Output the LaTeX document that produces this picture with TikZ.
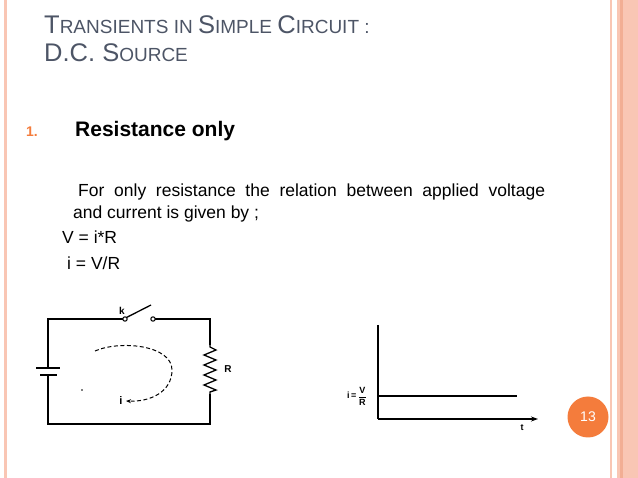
\documentclass[tikz,border=0pt]{standalone}
\usepackage{fontspec}
\setmainfont{Liberation Sans}
\usetikzlibrary{arrows.meta,decorations.pathmorphing}
\definecolor{stripe}{HTML}{F9C6B4}
\definecolor{stripeD}{HTML}{F2AE94}
\definecolor{titlec}{HTML}{4D5566}
\definecolor{orng}{HTML}{F47C3C}
\tikzset{wire/.style={line width=1.3pt},
 txt/.style={anchor=base west,inner sep=0pt,font=\fontsize{17.5}{19}\selectfont}}
\newcommand\bigc{\fontsize{25.5}{27}\selectfont}
\newcommand\smc{\fontsize{19}{20}\selectfont}
\begin{document}
\begin{tikzpicture}[x=1pt,y=-1pt]
\useasboundingbox (0,0) rectangle (638,478);
\fill[stripe] (4,0) rectangle (7,478);
\fill[stripe] (610,0) rectangle (612,478);
\fill[stripe] (617,0) rectangle (638,478);
\fill[stripeD] (620,0) rectangle (623,478);
% title
\node[anchor=base west,inner sep=0pt,text=titlec] (t1) at (44,34) {\bigc T\smc RANSIENTS IN \bigc S\smc IMPLE \bigc C\smc IRCUIT :};
\node[anchor=base west,inner sep=0pt,text=titlec] (t2) at (44,62) {\bigc D.C. S\smc OURCE};
\node[anchor=base west,inner sep=0pt,text=orng,font=\fontsize{14}{14}\selectfont\bfseries] (n1) at (26,137) {1.};
\node[anchor=base west,inner sep=0pt,font=\fontsize{21}{23}\selectfont\bfseries] (h1) at (75,137) {Resistance only};
\node[txt] (p1) at (78,197) {For \ only \ resistance \ the \ relation \ between \ applied \ voltage};
\node[txt] (p2) at (73,219) {and current is given by ;};
\node[txt] (p3) at (62,244) {V = i*R};
\node[txt] (p4) at (67,270) {i = V/R};
% circuit
\coordinate (tl) at (48,319); \coordinate (bl) at (48,424);
\coordinate (tr) at (210,319); \coordinate (br) at (210,424);
\coordinate (sa) at (125,319); \coordinate (sb) at (153,319);
\coordinate (r1) at (210,345); \coordinate (r2) at (210,394);
\draw[wire] (48,368) -- (tl) -- (sa);
\draw[wire] (sb) -- (tr) -- (r1);
\draw[wire] (r2) -- (br) -- (bl) -- (48,375);
\draw[wire] (36,368) -- (60,368);
\draw[wire] (40,375) -- (57,375);
\draw[wire] (r1) -- (210,347) -- (216,350) -- (204,355) -- (216,360) -- (204,365) -- (216,370) -- (204,375) -- (216,380) -- (204,385) -- (216,390) -- (210,392) -- (r2);
\draw[line width=1pt,fill=white] (sa) circle (2.2);
\draw[line width=1pt,fill=white] (sb) circle (2.2);
\draw[wire] (126.5,317.5) -- (151,305);
\node[font=\bfseries\fontsize{10}{10}\selectfont] (k) at (122,311) {k};
\node[font=\bfseries\fontsize{10}{10}\selectfont] (R) at (228,369) {R};
\node[font=\bfseries\fontsize{11}{11}\selectfont] (i) at (121,401) {i};
\draw[line width=1pt,dash pattern=on 4pt off 2.5pt,-{Stealth[length=5pt,width=4pt]}]
 (95,351) .. controls (120,340) and (172,345) .. (172,370)
 .. controls (172,392) and (150,402) .. (126,401);
\fill (82,390) circle (0.8);
% graph
\coordinate (o) at (378,419);
\draw[line width=1.3pt] (378,325) -- (o);
\draw[line width=1.3pt,-{Stealth[length=7pt,width=5pt]}] (o) -- (538,419);
\draw[line width=1.2pt] (378,396) -- (517,396);
\node[font=\bfseries\fontsize{9}{10}\selectfont] (t) at (522,428) {t};
\node[font=\bfseries\fontsize{9}{10}\selectfont,anchor=east,inner sep=0pt] (il) at (367,396) {i\,=\,$\displaystyle\frac{\mathbf V}{\mathbf R}$};
% page number
\node[circle,fill=orng,minimum size=41pt,inner sep=0pt,text=white,font=\fontsize{14}{14}\selectfont] (pg) at (588,417) {13};
\end{tikzpicture}
\end{document}
